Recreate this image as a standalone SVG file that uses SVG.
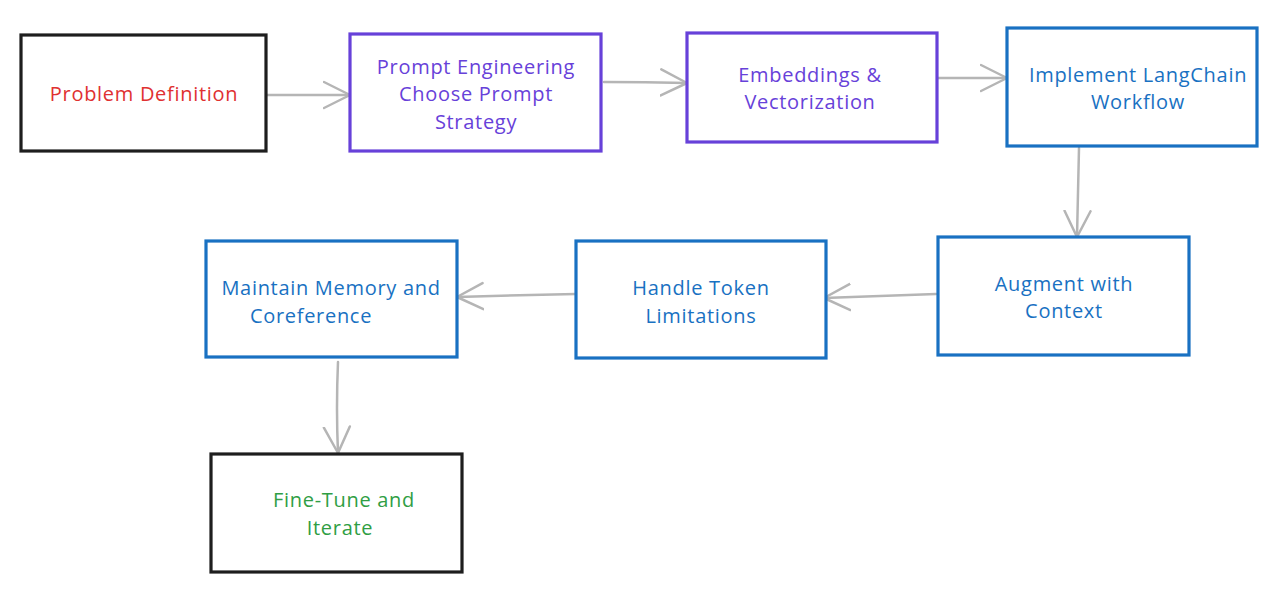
<svg xmlns="http://www.w3.org/2000/svg" width="1280" height="594" viewBox="0 0 1280 594">
<defs>
<marker id="arr" viewBox="0 0 28 30" refX="27" refY="15" markerWidth="28" markerHeight="30" markerUnits="userSpaceOnUse" orient="auto">
<polyline points="1,2 27,15 1,28" fill="none" stroke="#b5b5b5" stroke-width="2.5" stroke-linecap="round" stroke-linejoin="round"/>
</marker>
</defs>
<style>
.box{fill:#ffffff;stroke-width:3.2}
.k{stroke:#1e1e1e}
.p{stroke:#6741d9}
.b{stroke:#1971c2}
text{font-family:"Open Sans","Liberation Sans",sans-serif;font-size:20px;letter-spacing:0.7px;text-anchor:middle;dominant-baseline:central}
.tr{fill:#e03131}
.tp{fill:#6741d9}
.tb{fill:#1971c2}
.tg{fill:#2f9e44}
.c{fill:none;stroke:#b5b5b5;stroke-width:2.5;stroke-linecap:round;marker-end:url(#arr)}
</style>
<rect width="1280" height="594" fill="#ffffff"/>
<g id="connectors">
<path class="c" d="M266,95 L350,95"/>
<path class="c" d="M604,82 Q645,82 687,83"/>
<path class="c" d="M937,78 L1007,78"/>
<path class="c" d="M1079,148 Q1078,190 1077,237"/>
<path class="c" d="M936,294 Q880,296 824,298"/>
<path class="c" d="M576,294 Q516,295 457,297"/>
<path class="c" d="M338,362 Q336,408 338,453"/>
</g>
<g id="n1"><rect class="box k" x="21" y="35" width="245" height="116"/><text class="tr" x="144" y="93">Problem Definition</text></g>
<g id="n2"><rect class="box p" x="350" y="34" width="251" height="117"/><text class="tp" x="476" y="66">Prompt Engineering</text><text class="tp" x="476" y="93">Choose Prompt</text><text class="tp" x="476" y="121">Strategy</text></g>
<g id="n3"><rect class="box p" x="687" y="33" width="250" height="109"/><text class="tp" x="810" y="74">Embeddings &amp;</text><text class="tp" x="810" y="101">Vectorization</text></g>
<g id="n4"><rect class="box b" x="1007" y="28" width="250" height="118"/><text class="tb" x="1138" y="74">Implement LangChain</text><text class="tb" x="1138" y="101">Workflow</text></g>
<g id="n5"><rect class="box b" x="938" y="237" width="251" height="118"/><text class="tb" x="1064" y="283">Augment with</text><text class="tb" x="1064" y="310">Context</text></g>
<g id="n6"><rect class="box b" x="576" y="241" width="250" height="117"/><text class="tb" x="701" y="287">Handle Token</text><text class="tb" x="701" y="315">Limitations</text></g>
<g id="n7"><rect class="box b" x="206" y="241" width="251" height="116"/><text class="tb" x="331" y="287">Maintain Memory and</text><text class="tb" x="311" y="315">Coreference</text></g>
<g id="n8"><rect class="box k" x="211" y="454" width="251" height="118"/><text class="tg" x="344" y="499">Fine-Tune and</text><text class="tg" x="340" y="527">Iterate</text></g>
</svg>
